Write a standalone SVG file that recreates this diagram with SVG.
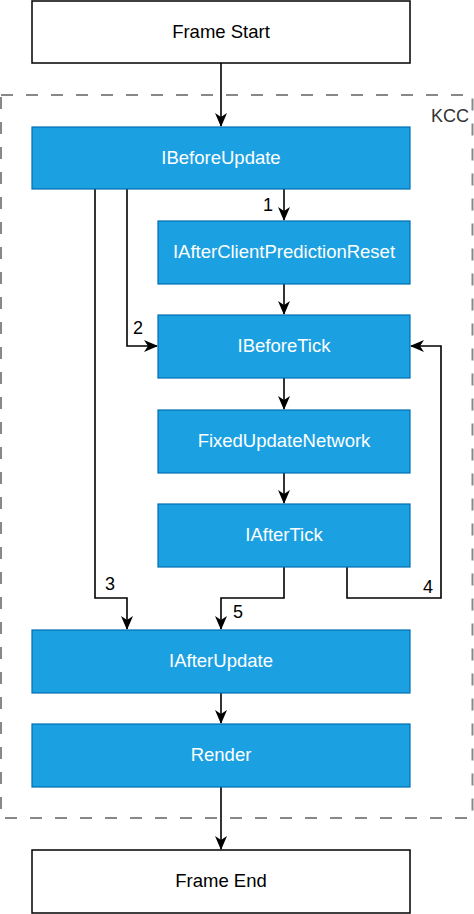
<svg xmlns="http://www.w3.org/2000/svg" width="474" height="914" viewBox="0 0 474 914">
<style>
.w{fill:#ffffff;stroke:#000000;stroke-width:1.5}
.b{fill:#1BA1E2;stroke:#006EAF;stroke-width:1.2}
.t{font-family:"Liberation Sans",Arial,sans-serif;font-size:18.5px;text-anchor:middle}
.tw{fill:#ffffff}
.tk{fill:#000000}
.c{fill:none;stroke:#000000;stroke-width:1.6}
.n{font-family:"Liberation Sans",Arial,sans-serif;font-size:18px;fill:#000000}
</style>
<defs>
<marker id="ah" viewBox="0 0 14 12" refX="13" refY="6" markerWidth="14" markerHeight="12" markerUnits="userSpaceOnUse" orient="auto">
<path d="M0,0 L14,6 L0,12 L4,6 Z" fill="#000000"/>
</marker>
</defs>
<rect id="kcc" x="1" y="95" width="471.5" height="723" fill="none" stroke="#888888" stroke-width="2" stroke-dasharray="12 13"/>
<text x="469" y="122" font-family="'Liberation Sans',Arial,sans-serif" font-size="18px" fill="#333333" text-anchor="end">KCC</text>
<g id="connectors">
<path class="c" d="M221,63 V126" marker-end="url(#ah)"/>
<path class="c" d="M284,189 V220" marker-end="url(#ah)"/>
<path class="c" d="M127,189 V346 H157" marker-end="url(#ah)"/>
<path class="c" d="M95,189 V598 H127 V629" marker-end="url(#ah)"/>
<path class="c" d="M284,284 V314" marker-end="url(#ah)"/>
<path class="c" d="M284,378 V409" marker-end="url(#ah)"/>
<path class="c" d="M284,473 V503" marker-end="url(#ah)"/>
<path class="c" d="M284,567 V598 H221 V629" marker-end="url(#ah)"/>
<path class="c" d="M347,567 V598 H441 V346 H411" marker-end="url(#ah)"/>
<path class="c" d="M221,693 V723" marker-end="url(#ah)"/>
<path class="c" d="M221,787 V849" marker-end="url(#ah)"/>
<text class="n" x="263" y="211">1</text>
<text class="n" x="133" y="334">2</text>
<text class="n" x="105" y="590">3</text>
<text class="n" x="423" y="593">4</text>
<text class="n" x="233" y="618">5</text>
</g>
<g id="frame-start">
<rect class="w" x="32" y="1" width="378" height="62"/>
<text class="t tk" x="221" y="38">Frame Start</text>
</g>
<g id="ibeforeupdate">
<rect class="b" x="32" y="127" width="378" height="62"/>
<text class="t tw" x="221" y="164">IBeforeUpdate</text>
</g>
<g id="iafterclientpredictionreset">
<rect class="b" x="158" y="221" width="252" height="63"/>
<text class="t tw" x="284" y="258">IAfterClientPredictionReset</text>
</g>
<g id="ibeforetick">
<rect class="b" x="158" y="315" width="252" height="63"/>
<text class="t tw" x="284" y="352">IBeforeTick</text>
</g>
<g id="fixedupdatenetwork">
<rect class="b" x="158" y="410" width="252" height="63"/>
<text class="t tw" x="284" y="447">FixedUpdateNetwork</text>
</g>
<g id="iaftertick">
<rect class="b" x="158" y="504" width="252" height="63"/>
<text class="t tw" x="284" y="541">IAfterTick</text>
</g>
<g id="iafterupdate">
<rect class="b" x="32" y="630" width="378" height="63"/>
<text class="t tw" x="221" y="667">IAfterUpdate</text>
</g>
<g id="render">
<rect class="b" x="32" y="724" width="378" height="63"/>
<text class="t tw" x="221" y="761">Render</text>
</g>
<g id="frame-end">
<rect class="w" x="32" y="850" width="378" height="63"/>
<text class="t tk" x="221" y="887">Frame End</text>
</g>
</svg>
